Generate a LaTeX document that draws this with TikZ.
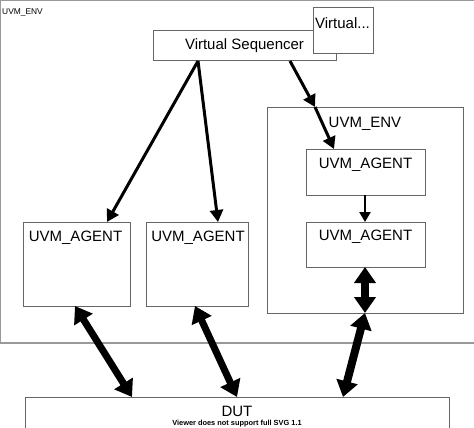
\documentclass[tikz,border=0pt]{standalone}
\usepackage{fontspec}
\setmainfont{Liberation Sans}
\usetikzlibrary{arrows.meta}
\tikzset{
  box/.style={draw=black!60, line width=1pt, fill=white, rectangle, inner sep=0pt, outer sep=0pt},
  txt/.style={inner sep=0pt, font=\fontsize{15}{18}\selectfont},
  seqarrow/.style={line width=3pt, -{Triangle[length=12pt,width=13pt]}},
  thinarrow/.style={line width=2.4pt, -{Triangle[length=10pt,width=11pt]}},
  bigdouble/.style={line width=7pt, {Triangle[length=16pt,width=21pt]}-{Triangle[length=16pt,width=21pt]}}
}
\begin{document}
\begin{tikzpicture}[x=1pt,y=-1pt]
\useasboundingbox (0,0) rectangle (474,428);
\clip (0,0) rectangle (474,428);
% outer env
\node[draw=black!40, line width=2pt, rectangle, inner sep=0pt, minimum width=475pt, minimum height=343pt] (env) at (237.5,171.5) {};
\node[inner sep=0pt, anchor=west, font=\fontsize{8.4}{10}\selectfont] (envlbl) at (2,12) {UVM\_ENV};
% sequencer
\node[box, minimum width=183pt, minimum height=30pt] (seq) at (244.5,46) {};
\node[txt] (seqlbl) at (244.5,46) {Virtual Sequencer};
\node[box, minimum width=60pt, minimum height=46pt] (virt) at (343,31) {};
\node[txt] (virtlbl) at (342.5,23) {Virtual...};
% left agents
\node[box, minimum width=107pt, minimum height=84pt] (la1) at (76.5,264) {};
\node[txt] (la1lbl) at (75.5,238) {UVM\_AGENT};
\node[box, minimum width=102pt, minimum height=84pt] (la2) at (197,264) {};
\node[txt] (la2lbl) at (198,238) {UVM\_AGENT};
% inner env
\node[box, minimum width=196pt, minimum height=206pt] (ienv) at (365,210) {};
\node[txt] (ienvlbl) at (365,124) {UVM\_ENV};
\node[box, minimum width=119pt, minimum height=46pt] (ia1) at (365.5,172) {};
\node[txt] (ia1lbl) at (365.5,165) {UVM\_AGENT};
\node[box, minimum width=119pt, minimum height=45pt] (ia2) at (365.5,244.5) {};
\node[txt] (ia2lbl) at (365.5,237) {UVM\_AGENT};
% DUT
\node[box, minimum width=424pt, minimum height=60pt] (dut) at (237,427) {};
\node[txt] (dutlbl) at (237,411) {DUT};
\node[inner sep=0pt, font=\fontsize{7.4}{9}\selectfont\bfseries] (svg) at (237,423.5) {Viewer does not support full SVG 1.1};
% connectors
\draw[seqarrow] ([xshift=-46.5pt]seq.south) -- ([xshift=30.5pt]la1.north);
\draw[seqarrow] ([xshift=-46.5pt]seq.south) -- ([xshift=21pt]la2.north);
\draw[seqarrow] ([xshift=45.5pt]seq.south) -- ([xshift=-50pt]ienv.north);
\draw[seqarrow] ([xshift=-50pt]ienv.north) -- ([xshift=-31.5pt]ia1.north);
\draw[thinarrow] ([xshift=-0.5pt]ia1.south) -- ([xshift=-0.5pt]ia2.north);
\draw[bigdouble] ([xshift=-1.5pt]la1.south) -- ([xshift=-105pt]dut.north);
\draw[bigdouble] ([xshift=-2pt]la2.south) -- ([xshift=0pt]dut.north);
\draw[bigdouble, line width=8pt] ([xshift=-0.5pt]ia2.south) -- (ienv.south);
\draw[bigdouble, line width=8pt] (ienv.south) -- ([xshift=106pt]dut.north);
\end{tikzpicture}
\end{document}
